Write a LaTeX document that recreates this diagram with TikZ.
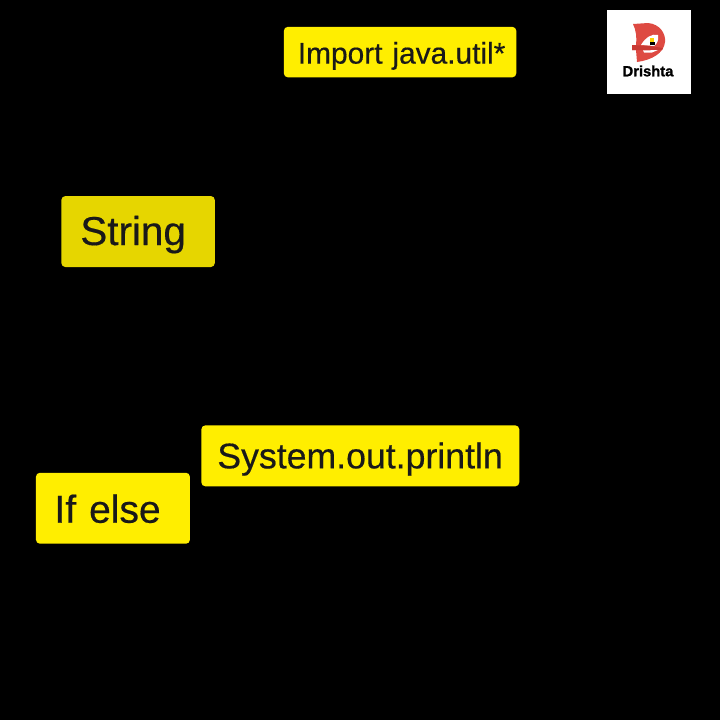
\documentclass[tikz,border=0pt]{standalone}
\usepackage{fontspec}
\setmainfont[FakeBold=0.4]{Liberation Sans}
\newfontfamily\brandfont[FakeBold=1.2]{Liberation Sans Bold}
\usepackage{tikz}
\usetikzlibrary{calc,positioning}
\definecolor{boxyellow}{HTML}{FFEE00}
\definecolor{boxdim}{HTML}{E6D600}
\definecolor{logored}{HTML}{DE4A42}
\definecolor{logobar}{HTML}{C93A34}
\tikzset{
  rekt/.style={rectangle,fill=boxyellow,rounded corners=0.08cm,inner sep=0pt,anchor=north west,align=left,text=black!90,text depth=0pt}
}

\begin{document}
\begin{tikzpicture}[x=0.02cm,y=-0.02cm]
    \fill[black] (0,0) rectangle (720,720);
    \useasboundingbox (0,0) rectangle (720,720);

    \node (IMPORT) at (283.5,26.5) [rekt,minimum width=4.65cm,minimum height=1.01cm,inner xsep=0.28cm,text width=4.09cm,text height=0.46cm,font=\fontsize{17pt}{20pt}\selectfont] {Import~java.util*};
    \node (STRING) at (61,195.7) [rekt,fill=boxdim,minimum width=3.07cm,minimum height=1.42cm,inner xsep=0.38cm,text width=2.31cm,text height=0.54cm,font=\fontsize{23pt}{26pt}\selectfont] {String};
    \node (PRINT) at (201,425) [rekt,minimum width=6.36cm,minimum height=1.22cm,inner xsep=0.32cm,text width=5.72cm,text height=0.5cm,font=\fontsize{20.3pt}{23pt}\selectfont] {System.out.println};
    \node (IFELSE) at (35.6,472.4) [rekt,minimum width=3.08cm,minimum height=1.42cm,inner xsep=0.37cm,text width=2.34cm,text height=0.58cm,font=\fontsize{22.2pt}{25pt}\selectfont] {If~else};

    % logo
    \node (LOGO) at (607,10) [rectangle,fill=white,anchor=north west,inner sep=0pt,minimum size=1.68cm] {};
    \fill[logored] (633,24) -- (648,23) .. controls (660,24) and (666,34) .. (665,42) .. controls (664,53) and (652,60) .. (637,62) -- (636,50) -- (632,50) -- (632,45) -- (636,45) .. controls (637,38) and (636,30) .. (633,24) -- cycle;
    \fill[white] (641,45) .. controls (645,38) and (652,33) .. (658,35) .. controls (659,40) and (657,44) .. (654,46) -- cycle;
    \fill[black] (650,42) rectangle (655,45);
    \fill[yellow!70!orange] (650,38) rectangle (654,42);
    \fill[logobar] (632,45) -- (650,46) -- (663,48) -- (662,50) -- (632,50) -- cycle;
    \fill[white] (643,50.5) -- (658,50) -- (652,52.5) -- (644,52.5) -- cycle;
    \node (BRAND) at (648,71) [inner sep=0pt,font=\brandfont\fontsize{8.4pt}{10pt}\selectfont] {Drishta};
\end{tikzpicture}
\end{document}
